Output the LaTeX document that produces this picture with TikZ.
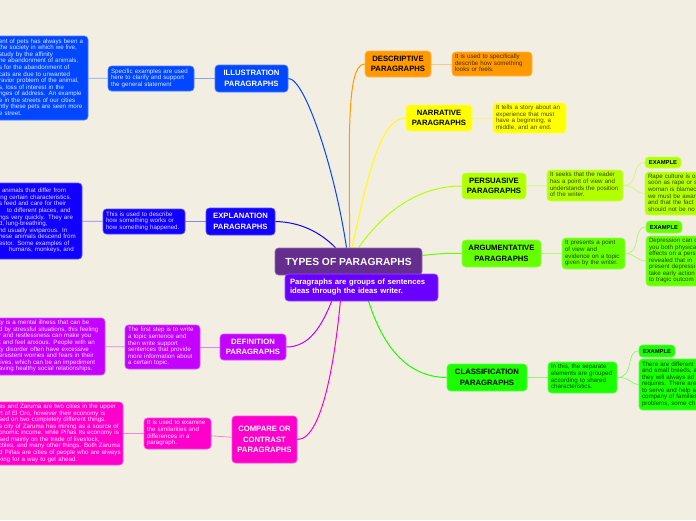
\documentclass[tikz,border=0pt]{standalone}
\usepackage{fontspec}
\setmainfont{Liberation Sans}
\usetikzlibrary{backgrounds}
\definecolor{paper}{HTML}{F2EFE2}
\definecolor{cIll}{HTML}{0047FF}
\definecolor{cExp}{HTML}{1100FF}
\definecolor{cDef}{HTML}{C400FF}
\definecolor{cCmp}{HTML}{FF00CC}
\definecolor{cDes}{HTML}{FF9900}
\definecolor{cNar}{HTML}{FFFF00}
\definecolor{cPer}{HTML}{B2FF00}
\definecolor{cArg}{HTML}{66FF00}
\definecolor{cCla}{HTML}{19FF00}
\definecolor{cRoot}{HTML}{652D8E}
\definecolor{cSub}{HTML}{6A00FF}
\tikzset{
  shell/.style={rounded corners=3.5pt,fill=#1,draw=#1!70!white,line width=.6pt,inner ysep=0pt,inner xsep=3pt},
  branch/.style={shell=#1,font=\fontsize{7.7}{10.5}\selectfont\bfseries,align=center,text=black},
  coldbranch/.style={branch=#1,text=white},
  note/.style={shell=#1,font=\fontsize{6.2}{6.55}\selectfont,text=white!85!#1},
  darknote/.style={shell=#1,font=\fontsize{6.2}{6.55}\selectfont,text=black!70!#1},
  tag/.style={shell=#1,font=\fontsize{5.8}{6.5}\selectfont\bfseries,align=center,text=black},
  stem/.style={line width=1pt,color=#1},
  twig/.style={line width=.8pt,color=#1!45!paper},
}
\newcommand{\bxn}[7][note=cIll]{%
  \pgfmathsetmacro{\bw}{#5-#3}\pgfmathsetmacro{\bh}{#6-#4}%
  \pgfmathsetmacro{\cx}{(#3+#5)/2}\pgfmathsetmacro{\cy}{(#4+#6)/2}%
  \node[#1,minimum width=\bw pt,minimum height=\bh pt,text width=\bw pt-6pt] (#2) at (\cx,\cy) {\begin{tabular}{@{}l@{}}#7\end{tabular}};}
\newcommand{\hdn}[7][branch=cIll]{%
  \pgfmathsetmacro{\bw}{#5-#3}\pgfmathsetmacro{\bh}{#6-#4}%
  \pgfmathsetmacro{\cx}{(#3+#5)/2}\pgfmathsetmacro{\cy}{(#4+#6)/2}%
  \node[#1,minimum width=\bw pt,minimum height=\bh pt] (#2) at (\cx,\cy) {#7};}
\begin{document}
\begin{tikzpicture}[x=1pt,y=-1pt]
\useasboundingbox (0,0) rectangle (696,520);
\clip (0,0) rectangle (696,520);
% root
\hdn[shell=cRoot,text=white,font=\fontsize{10.3}{11}\selectfont\bfseries]{root}{275}{248}{422}{275}{TYPES OF PARAGRAPHS}
\bxn[note=cSub,text=white,font=\fontsize{7.7}{9}\selectfont\bfseries]{sub}{285}{274}{438}{301}{\hspace*{2pt}Paragraphs are groups of sentences\\\hspace*{2pt}ideas through the ideas writer.}
\coordinate (hub) at (root.north);
% branches
\hdn[coldbranch=cIll]{ill}{215}{65}{288}{92}{ILLUSTRATION\\PARAGRAPHS}
\hdn[coldbranch=cExp]{exp}{206}{208}{275}{235}{EXPLANATION\\PARAGRAPHS}
\hdn[coldbranch=cDef]{def}{220}{334}{286}{360}{DEFINITION\\PARAGRAPHS}
\hdn[coldbranch=cCmp]{cmp}{232}{416}{297}{463}{COMPARE OR\\CONTRAST\\PARAGRAPHS}
\hdn[branch=cDes]{des}{365}{51}{431}{77}{DESCRIPTIVE\\PARAGRAPHS}
\hdn[branch=cNar]{nar}{406}{105}{472}{131}{NARRATIVE\\PARAGRAPHS}
\hdn[branch=cPer]{per}{462}{173}{526}{199}{PERSUASIVE\\PARAGRAPHS}
\hdn[branch=cArg]{arg}{462}{240}{541}{267}{ARGUMENTATIVE\\PARAGRAPHS}
\hdn[branch=cCla]{cla}{447}{364}{527}{391}{CLASSIFICATION\\PARAGRAPHS}
% second level
\bxn[note=cIll]{illd}{108}{66}{194}{91}{Specific examples are used\\here to clarify and support\\the general statement}
\bxn[note=cExp]{expd}{103}{209}{185}{234}{This is used to describe\\how something works or\\how something happened.}
\bxn[note=cDef]{defd}{125}{325}{200}{369}{The first step is to write\\a topic sentence and\\then write support\\sentences that provide\\more information about\\a certain topic.}
\bxn[note=cCmp]{cmpd}{144}{418}{211}{449}{It is used to examine\\the similarities and\\differences in a\\paragraph.}
\bxn[darknote=cDes]{desd}{452}{52}{532}{76}{It is used to specifically\\describe how something\\looks or feels.}
\bxn[darknote=cNar]{nard}{493}{103}{566}{133}{It tells a story about an\\experience that must\\have a beginning, a\\middle, and an end.}
\bxn[darknote=cPer]{perd}{547}{170}{623}{201}{It seeks that the reader\\has a point of view and\\understands the position\\of the writer.}
\bxn[darknote=cArg]{argd}{562}{238}{625}{269}{It presents a point\\of view and\\evidence on a topic\\given by the writer.}
\bxn[darknote=cCla]{clad}{548}{362}{617}{393}{In this, the separate\\elements are grouped\\according to shared\\characteristics.}
% third level, left (cut by the page edge)
\bxn[note=cIll,inner xsep=2pt]{illx}{-4}{36}{88}{120}{ent of pets has always been a\\the society in which we live,\\study by the affinity\\ne abandonment of animals,\\s for the abandonment of\\cats are due to unwanted\\ravior problem of the animal,\\s, loss of interest in the\\nges of address. An example\\e in the streets of our cities\\ntly these pets are seen more\\e street.}
\bxn[note=cExp,inner xsep=2pt]{expx}{-4}{183}{82}{259}{\hspace*{3pt}animals that differ from\\ing certain characteristics.\\s feed and care for their\\\hspace*{8pt}to different places, and\\ngs very quickly. They are\\d, lung-breathing,\\nd usually viviparous. In\\nese animals descend from\\estor. Some examples of\\\hspace*{10pt}humans, monkeys, and}
\bxn[note=cDef,inner xsep=2pt]{defx}{-4}{318}{105}{375}{ty is a mental illness that can be\\d by stressful situations, this feeling\\r and restlessness can make you\\t and feel anxious. People with an\\ty disorder often have excessive\\ersistent worries and fears in their\\lives, which can be an impediment\\aving healthy social relationships.}
\bxn[note=cCmp,inner xsep=2pt]{cmpx}{-4}{402}{123}{465}{as and Zaruma are two cities in the upper\\rt of El Oro, however their economy is\\sed on two completely different things.\\s city of Zaruma has mining as a source of\\onomic income, while Piñas Its economy is\\sed mainly on the trade of livestock,\\ctiles, and many other things. Both Zaruma\\d Piñas are cities of people who are always\\king for a way to get ahead.}
% third level, right (cut by the page edge)
\hdn[tag=cPer]{pert}{645}{157}{681}{168}{EXAMPLE}
\bxn[darknote=cPer]{perx}{645}{172}{760}{215}{Rape culture is op\\soon as rape or s\\woman is blamec\\we must be awar\\and that the fact\\should not be no}
\hdn[tag=cArg]{argt}{646}{221}{682}{233}{EXAMPLE}
\bxn[darknote=cArg]{argx}{646}{236}{760}{286}{Depression can c\\you both physica\\effects on a pers\\revealed that in\\present depressi\\take early action\\to tragic outcom}
\hdn[tag=cCla]{clat}{639}{345}{675}{357}{EXAMPLE}
\bxn[darknote=cCla]{clax}{639}{359}{760}{410}{There are different\\and small breeds, a\\they will always ad\\requires. There are\\to serve and help a\\company of families\\problems, some ch}
\begin{scope}[on background layer]
\fill[paper] (0,0) rectangle (696,520);
\draw[stem=cIll] ([xshift=-2pt]hub) .. controls (335,170) and (305,78) .. (ill.east);
\draw[stem=cExp] ([xshift=-13pt]hub) .. controls (320,232) and (300,222) .. (exp.east);
\draw[stem=cDef] ([xshift=47pt]sub.south west) .. controls (322,325) and (310,347) .. (def.east);
\draw[stem=cCmp] ([xshift=-6pt]root.south) .. controls (338,340) and (325,440) .. (cmp.east);
\draw[stem=cDes] ([xshift=1pt]hub) .. controls (350,150) and (345,64) .. (des.west);
\draw[stem=cNar] ([xshift=3.5pt]hub) .. controls (365,190) and (378,118) .. (nar.west);
\draw[stem=cPer] ([xshift=10pt]hub) .. controls (385,210) and (420,186) .. (per.west);
\draw[stem=cArg] ([yshift=6pt]root.east) .. controls (435,254) and (445,253) .. (arg.west);
\draw[stem=cCla] ([xshift=13pt]root.south) .. controls (375,335) and (400,377) .. (cla.west);
\draw[twig=cIll] (illx) -- (illd);
\draw[twig=cIll] (illd) -- (ill);
\draw[twig=cExp] (expx) -- (expd);
\draw[twig=cExp] (expd) -- (exp);
\draw[twig=cDef] (defx) -- (defd);
\draw[twig=cDef] (defd) -- (def);
\draw[twig=cCmp] (cmpx.east) -- (cmpd.west);
\draw[twig=cCmp] (cmpd) -- (cmp);
\draw[twig=cDes] (des) -- (desd);
\draw[twig=cNar] (nar) -- (nard);
\draw[twig=cPer] (per) -- (perd);
\draw[twig=cArg] (arg) -- (argd);
\draw[twig=cCla] (cla) -- (clad);
\draw[twig=cPer] (perd.east) .. controls (640,186) and (630,163) .. (pert.west);
\draw[twig=cPer] (perd.east) .. controls (635,186) and (636,193) .. (perx.west);
\draw[twig=cArg] (argd.east) .. controls (642,254) and (632,227) .. (argt.west);
\draw[twig=cArg] (argd.east) .. controls (636,254) and (637,261) .. (argx.west);
\draw[twig=cCla] (clad.east) .. controls (635,377) and (625,351) .. (clat.west);
\draw[twig=cCla] (clad.east) .. controls (630,377) and (630,384) .. (clax.west);
\end{scope}
\end{tikzpicture}
\end{document}
